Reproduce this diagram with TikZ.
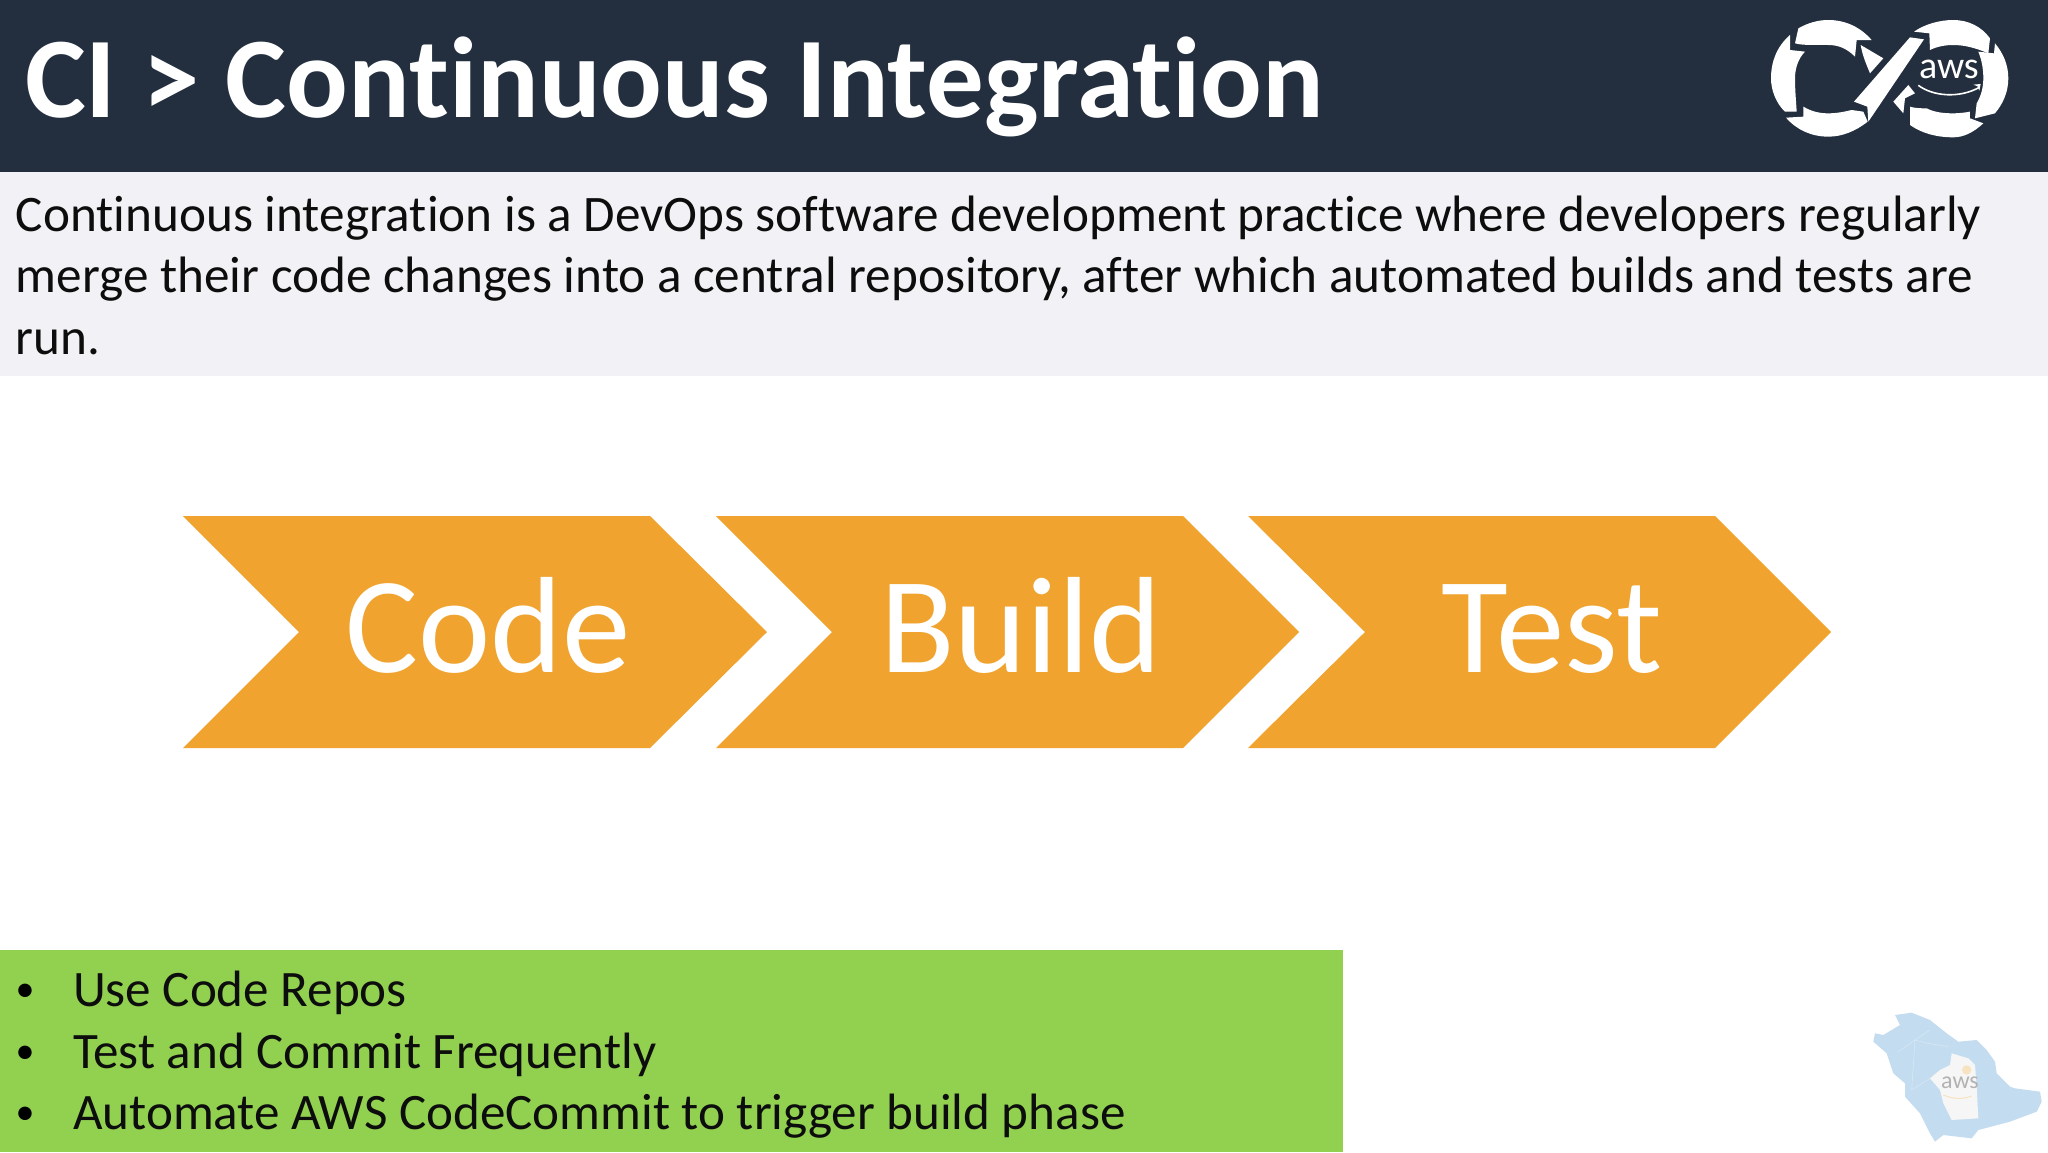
\documentclass[tikz,border=0pt]{standalone}
\usepackage{fontspec}
\setmainfont[Ligatures=NoCommon]{Carlito}
\definecolor{hdr}{HTML}{232F3E}
\definecolor{band}{HTML}{F2F1F5}
\definecolor{chev}{HTML}{F0A32F}
\definecolor{grn}{HTML}{92D050}
\definecolor{mapblue}{HTML}{C4DCEF}
\definecolor{mapline}{HTML}{D6E7F4}
\definecolor{mapcore}{HTML}{F6F6F6}
\definecolor{mapsmile}{HTML}{F8E3BE}
\newcommand{\fsz}[1]{\fontsize{#1}{#1}\selectfont}
\tikzset{
  every node/.style={inner sep=0pt,outer sep=0pt},
  titletext/.style={anchor=base west,text=white,font=\fsz{115}\bfseries},
  bodytext/.style={anchor=base west,text=black!95,font=\fsz{51.2}},
  bullettext/.style={anchor=base west,text=black!95,font=\fsz{51.1}},
  bulletmark/.style={anchor=base,text=black,font=\fsz{38}},
  chevlabel/.style={anchor=base,text=white,font=\fsz{137}},
  chevron/.style={fill=chev,draw=none},
  logopart/.style={fill=white,draw=none},
}
\begin{document}
\begin{tikzpicture}[x=1pt,y=-1pt]
\useasboundingbox (0,0) rectangle (2048,1152);
\fill[white] (0,0) rectangle (2048,1152);
\fill[hdr] (0,0) rectangle (2048,172);
\fill[band] (0,172) rectangle (2048,376);
\fill[grn] (0,950) rectangle (1343,1152);
\node[titletext] (title) at (25,117) {CI > Continuous Integration};
\node[bodytext] (l1) at (16,231) {Continuous integration is a DevOps software development practice where developers regularly};
\node[bodytext] (l2) at (16,292) {merge their code changes into a central repository, after which automated builds and tests are};
\node[bodytext] (l3) at (16,354) {run.};
\fill[chevron] (183,516) -- (650,516) -- (767,632) -- (650,748) -- (183,748) -- (299,632) -- cycle;
\fill[chevron] (716,516) -- (1183,516) -- (1299,632) -- (1183,748) -- (716,748) -- (832,632) -- cycle;
\fill[chevron] (1248,516) -- (1715,516) -- (1831,632) -- (1715,748) -- (1248,748) -- (1365,632) -- cycle;
\node[chevlabel] (code) at (488,672) {Code};
\node[chevlabel] (build) at (1021,672) {Build};
\node[chevlabel] (test) at (1552,672) {Test};
\foreach \nm/\yy/\tx in {a/1006.5/Use Code Repos,b/1068/Test and Commit Frequently,c/1129.5/Automate AWS CodeCommit to trigger build phase}{
  \node[bullettext] (bt\nm) at (73,\yy) {\tx};
  \node[bulletmark] (bd\nm) at (25,\yy-5) {•};
}
% logo
\begin{scope}[shift={(1740,0)},x=0.3333pt,y=-0.3333pt]
\fill[logopart] (150,105) .. controls (110,140) and (93,185) .. (93,235) .. controls (93,270) and (108,310) .. (135,335) -- (170,335) .. controls (168,300) and (165,270) .. (165,235) .. controls (165,205) and (175,175) .. (195,155) -- (150,150) -- cycle;
\fill[logopart] (175,85) .. controls (205,68) and (235,60) .. (265,60) .. controls (320,60) and (365,85) .. (395,120) -- (350,120) -- (345,170) .. controls (320,145) and (295,135) .. (265,135) .. controls (230,133) and (195,138) .. (165,130) -- cycle;
\fill[logopart] (362,135) -- (430,175) -- (390,220) .. controls (380,195) and (368,170) .. (362,135) -- cycle;
\fill[logopart] (138,353) -- (190,350) -- (190,320) .. controls (215,335) and (240,340) .. (265,340) .. controls (290,340) and (315,335) .. (335,330) -- (370,335) -- (383,365) .. controls (345,395) and (305,410) .. (265,410) .. controls (215,410) and (170,390) .. (138,353) -- cycle;
\fill[logopart] (510,112) -- (552,118) -- (385,365) -- (382,320) -- (342,305) -- cycle;
\fill[logopart] (522,95) .. controls (555,72) and (600,60) .. (640,60) .. controls (685,60) and (725,80) .. (750,115) -- (745,160) .. controls (710,145) and (675,135) .. (640,135) .. controls (615,135) and (590,140) .. (570,150) -- (568,100) -- cycle;
\fill[logopart] (765,130) .. controls (790,160) and (805,195) .. (805,235) .. controls (805,275) and (790,310) .. (765,340) -- (705,355) -- (710,310) .. controls (722,290) and (730,265) .. (730,235) .. controls (730,205) and (725,180) .. (715,155) -- (762,160) -- cycle;
\fill[logopart] (510,320) .. controls (525,325) and (545,325) .. (560,325) .. controls (585,338) and (615,340) .. (640,340) .. controls (655,340) and (675,338) .. (690,335) -- (690,355) -- (730,370) .. controls (700,398) and (670,412) .. (640,412) .. controls (590,412) and (545,400) .. (510,375) -- cycle;
\fill[logopart] (460,305) -- (505,255) -- (525,280) -- (495,295) -- (490,340) -- cycle;
\node[anchor=base,text=white,font=\fsz{38}] (logoaws) at (627,237) {aws};
\draw[white,line width=1.6pt] (535,256) .. controls (580,290) and (660,295) .. (718,262);
\fill[white] (700,254) -- (722,252) -- (718,272) -- (713,259) -- cycle;
\end{scope}
% map
\begin{scope}[shift={(1840,990)},x=0.3333pt,y=-0.3333pt]
\fill[mapblue] (100,155) -- (105,130) -- (130,135) -- (180,105) -- (165,75) -- (215,68) -- (270,90) -- (320,130) -- (355,155) -- (410,150) -- (440,180) -- (465,215) -- (470,250) -- (510,290) -- (525,295) -- (600,305) -- (605,335) -- (590,365) -- (510,395) -- (415,420) -- (395,445) -- (310,435) -- (285,455) -- (270,430) -- (240,370) -- (195,320) -- (195,280) -- (160,250) -- (140,190) -- cycle;
\fill[mapcore] (335,190) -- (385,205) -- (405,225) -- (410,290) -- (415,385) -- (335,390) -- (310,340) -- (300,300) -- (270,265) -- (300,240) -- (330,225) -- cycle;
\draw[mapline,line width=0.6pt] (175,185) -- (225,150) -- (270,120) (225,150) -- (265,160) -- (325,170) (225,150) -- (215,300) -- (270,265);
\node[anchor=base,text=black!30,font=\fsz{24}] (mapaws) at (360,295) {aws};
\draw[mapsmile,line width=1pt] (310,315) .. controls (340,328) and (370,328) .. (395,318);
\fill[mapsmile] (380,240) circle (14);
\end{scope}
\end{tikzpicture}
\end{document}
